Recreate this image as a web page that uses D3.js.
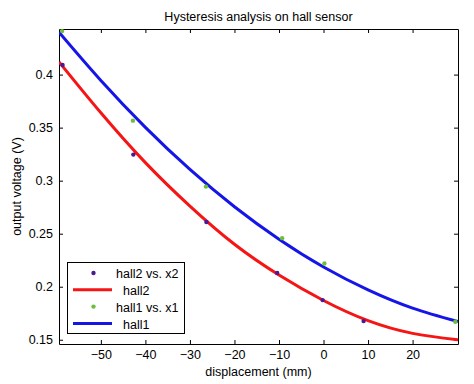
<!DOCTYPE html>
<html>
<head>
<meta charset="utf-8">
<title>Hysteresis analysis on hall sensor</title>
<script src="https://cdnjs.cloudflare.com/ajax/libs/d3/7.8.5/d3.min.js"></script>
<style>
  body { margin: 0; background: #fff; }
  svg { display: block; font-family: "Liberation Sans", Arial, sans-serif; }
</style>
</head>
<body>
<div id="chart"></div>
<script>
// measured points
const hall2X = [-58.6, -42.7, -26.3, -10.4, -0.2, 9.0];
const hall2Y = [0.409, 0.3246, 0.261, 0.213, 0.1874, 0.1676];
const hall1X = [-58.7, -42.8, -26.4, -9.3, 0.2, 29.6];
const hall1Y = [0.441, 0.3566, 0.2944, 0.2458, 0.2219, 0.167];

// fitted curves
const fitX = [-59.4, -50, -40, -30, -20, -10, 0, 10, 20, 30.2];
const hall2Fit = [0.412, 0.364, 0.317, 0.276, 0.240, 0.211, 0.187, 0.168, 0.156, 0.150];
const hall1Fit = [0.440, 0.3945, 0.3503, 0.3106, 0.2754, 0.2448, 0.2186, 0.197, 0.1798, 0.1671];

const xTicks = [-50, -40, -30, -20, -10, 0, 10, 20];
const yTicks = [0.15, 0.2, 0.25, 0.3, 0.35, 0.4];

const W = 474, H = 384;
const margin = {top: 29, right: 16, bottom: 40, left: 59};
const width = W - margin.left - margin.right;
const height = H - margin.top - margin.bottom;

const svg = d3.select("#chart").append("svg")
    .attr("width", W)
    .attr("height", H);

const g = svg.append("g")
    .attr("transform", `translate(${margin.left},${margin.top})`);

const x = d3.scaleLinear().domain([-59.4, 30.2]).range([0, width]);
const y = d3.scaleLinear().domain([0.146, 0.443]).range([height, 0]);

// axes with inward ticks on all sides
function styleAxis(sel) {
    sel.select(".domain").attr("stroke", "#000");
    sel.selectAll(".tick line").attr("stroke", "#000");
    sel.selectAll(".tick text").attr("font-size", 12.5).attr("fill", "#000")
        .attr("font-family", "Liberation Sans, Arial, sans-serif");
}

g.append("g")
    .attr("transform", `translate(0,${height})`)
    .call(d3.axisBottom(x).tickValues(xTicks).tickSizeInner(-4).tickSizeOuter(0).tickPadding(6))
    .call(styleAxis);

g.append("g")
    .call(d3.axisTop(x).tickValues(xTicks).tickSizeInner(-4).tickSizeOuter(0).tickFormat(""))
    .call(styleAxis);

g.append("g")
    .call(d3.axisLeft(y).tickValues(yTicks).tickSizeInner(-4).tickSizeOuter(0).tickPadding(6).tickFormat(d3.format("~g")))
    .call(styleAxis);

g.append("g")
    .attr("transform", `translate(${width},0)`)
    .call(d3.axisRight(y).tickValues(yTicks).tickSizeInner(-4).tickSizeOuter(0).tickFormat(""))
    .call(styleAxis);

// clip for curves
g.append("clipPath").attr("id", "clip")
    .append("rect").attr("width", width).attr("height", height);

const line = d3.line()
    .x(d => x(d[0]))
    .y(d => y(d[1]))
    .curve(d3.curveNatural);

const plot = g.append("g").attr("clip-path", "url(#clip)");

plot.append("path")
    .datum(fitX.map((v, i) => [v, hall2Fit[i]]))
    .attr("fill", "none")
    .attr("stroke", "#f51515")
    .attr("stroke-width", 3)
    .attr("d", line);

plot.append("path")
    .datum(fitX.map((v, i) => [v, hall1Fit[i]]))
    .attr("fill", "none")
    .attr("stroke", "#1515e8")
    .attr("stroke-width", 3)
    .attr("d", line);

g.selectAll(".dot2")
    .data(hall2X.map((v, i) => [v, hall2Y[i]]))
    .enter().append("circle")
    .attr("cx", d => x(d[0]))
    .attr("cy", d => y(d[1]))
    .attr("r", 2.2)
    .attr("fill", "#4a1a96");

g.selectAll(".dot1")
    .data(hall1X.map((v, i) => [v, hall1Y[i]]))
    .enter().append("circle")
    .attr("cx", d => x(d[0]))
    .attr("cy", d => y(d[1]))
    .attr("r", 2.2)
    .attr("fill", "#6cbf3a");

// title and labels
svg.append("text")
    .attr("x", margin.left + width / 2)
    .attr("y", 21)
    .attr("text-anchor", "middle")
    .attr("font-size", 12.5)
    .text("Hysteresis analysis on hall sensor");

svg.append("text")
    .attr("x", margin.left + width / 2)
    .attr("y", 376)
    .attr("text-anchor", "middle")
    .attr("font-size", 12.5)
    .text("displacement (mm)");

svg.append("text")
    .attr("transform", `translate(21,${margin.top + height / 2}) rotate(-90)`)
    .attr("text-anchor", "middle")
    .attr("font-size", 12.5)
    .text("output voltage (V)");

// legend
const legend = svg.append("g");
legend.append("rect")
    .attr("x", 67.5).attr("y", 262.5)
    .attr("width", 117).attr("height", 71)
    .attr("fill", "#fff")
    .attr("stroke", "#000");

const items = [
    {label: "hall2 vs. x2", type: "dot", color: "#4a1a96", tx: 116},
    {label: "hall2", type: "line", color: "#f51515", tx: 123},
    {label: "hall1 vs. x1", type: "dot", color: "#6cbf3a", tx: 116},
    {label: "hall1", type: "line", color: "#1515e8", tx: 123}
];

items.forEach((it, i) => {
    const cy = 273 + i * 16.8;
    if (it.type === "dot") {
        legend.append("circle").attr("cx", 93.5).attr("cy", cy).attr("r", 2.2).attr("fill", it.color);
    } else {
        legend.append("line").attr("x1", 73).attr("x2", 112).attr("y1", cy).attr("y2", cy)
            .attr("stroke", it.color).attr("stroke-width", 3);
    }
    legend.append("text")
        .attr("x", it.tx).attr("y", cy + 1)
        .attr("dy", "0.35em")
        .attr("font-size", 12.5)
        .text(it.label);
});
</script>
</body>
</html>
